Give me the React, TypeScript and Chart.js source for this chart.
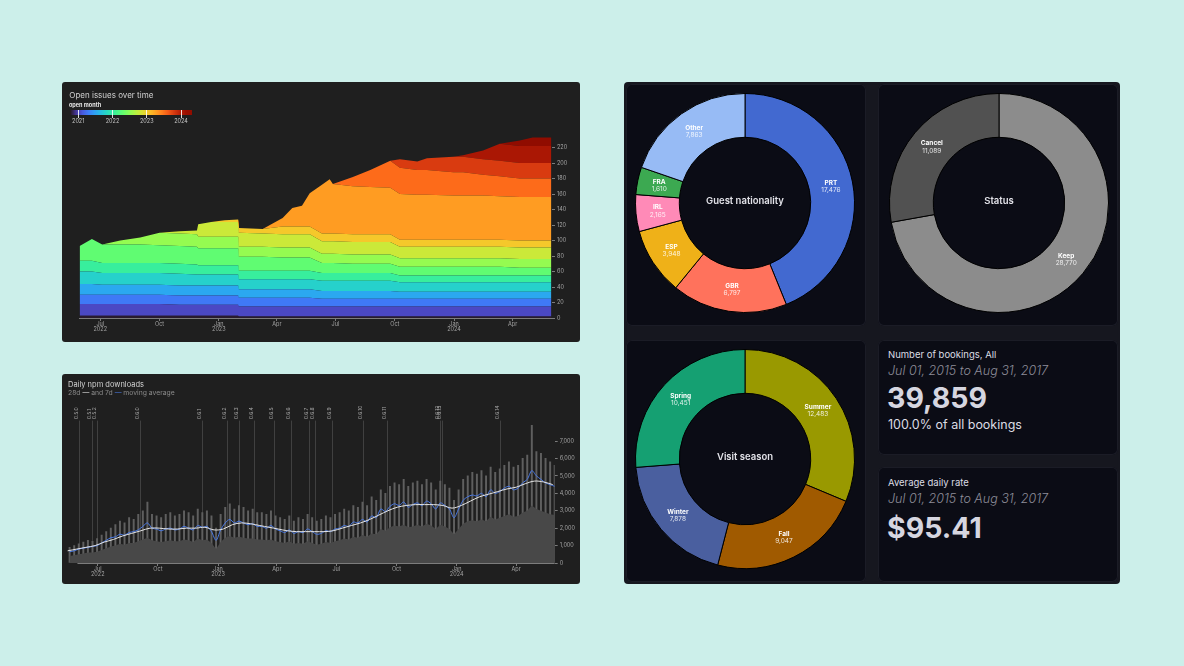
import React, { useEffect, useRef } from "react";
import { Chart, registerables } from "chart.js";

Chart.register(...registerables);

const FONT = "Inter, 'Noto Sans', 'DejaVu Sans', sans-serif";
const DAY_MS = 86400000;
const EPOCH = Date.UTC(2022, 6, 1);
const toDay = (iso: string) => (Date.parse(iso + "T00:00:00Z") - EPOCH) / DAY_MS;

// ================= Open issues over time =================
const issueDates = [
  "2022-05-30", "2022-06-18", "2022-07-04", "2022-08-01", "2022-09-01", "2022-10-01",
  "2022-11-01", "2022-11-28", "2022-11-30", "2022-12-20", "2023-01-10", "2023-01-31",
  "2023-02-01", "2023-03-10", "2023-04-10", "2023-04-25", "2023-05-10", "2023-05-22",
  "2023-06-10", "2023-06-22", "2023-06-27", "2023-07-28", "2023-08-24", "2023-09-24",
  "2023-10-09", "2023-11-05", "2023-11-20", "2023-12-31", "2024-01-15", "2024-02-15",
  "2024-03-12", "2024-04-12", "2024-05-02", "2024-05-31",
];
const cohortStarts = [
  "2020-10-01", "2021-01-01", "2021-04-01", "2021-07-01", "2021-10-01", "2022-01-01",
  "2022-04-01", "2022-07-01", "2022-10-01", "2023-01-01", "2023-04-01", "2023-07-01",
  "2023-10-01", "2024-01-01", "2024-04-01",
];
const open2020Q4 = [3,3,3,3,3,3,3,3,3,3,3,3,2,2,2,2,2,2,2,2,2,2,2,2,2,2,2,2,2,2,2,2,2,2];
const open2021Q1 = [15,15,15,15,15,15,14,14,14,14,14,14,13,13,13,13,13,13,13,13,13,13,13,13,13,13,13,13,13,13,13,13,13,13];
const open2021Q2 = [12,12,12,12,12,12,12,12,12,12,12,12,11,11,11,11,11,11,10,10,10,10,10,10,10,10,10,10,10,10,10,10,10,10];
const open2021Q3 = [14,14,13,13,13,13,13,13,13,13,13,13,11,11,11,11,11,11,10,10,10,10,10,10,9,9,9,9,9,9,9,9,9,9];
const open2021Q4 = [16,16,15,15,15,15,15,14,14,14,14,14,13,13,13,13,13,13,13,13,13,13,13,13,12,12,12,12,12,12,12,12,12,12];
const open2022Q1 = [14,14,13,13,13,13,13,13,12,12,12,12,11,11,11,11,11,11,10,10,10,10,10,10,9,9,9,9,9,9,9,9,9,9];
const open2022Q2 = [19,28,24,24,24,23,23,23,22,22,22,22,18,18,17,17,17,17,13,13,13,12,12,12,11,11,11,11,11,11,11,10,10,10];
const open2022Q3 = [0,0,0,5,9,16,16,16,15,15,15,15,13,13,13,13,13,13,12,12,12,12,12,12,11,11,11,11,11,11,11,11,11,11];
const open2022Q4 = [0,0,0,0,0,0,3,5,16,19,19,19,18,17,17,17,17,17,16,16,16,16,16,16,15,15,15,15,15,15,15,15,15,15];
const open2023Q1 = [0,0,0,0,0,0,0,0,0,0,2,3,6,6,10,10,10,10,10,10,10,10,10,10,9,9,9,9,9,9,9,9,9,9];
const open2023Q2 = [0,0,0,0,0,0,0,0,0,0,0,0,0,0,11,24,27,43,63,70,64,62,61,60,59,58,58,57,57,57,56,56,56,56];
const open2023Q3 = [0,0,0,0,0,0,0,0,0,0,0,0,0,0,0,0,0,0,0,0,0,12,22,35,34,32,32,30,30,27,26,24,24,24];
const open2023Q4 = [0,0,0,0,0,0,0,0,0,0,0,0,0,0,0,0,0,0,0,0,0,0,0,0,11,11,15,20,20,20,20,20,20,20];
const open2024Q1 = [0,0,0,0,0,0,0,0,0,0,0,0,0,0,0,0,0,0,0,0,0,0,0,0,0,0,0,0,2,11,22,22,22,22];
const open2024Q2 = [0,0,0,0,0,0,0,0,0,0,0,0,0,0,0,0,0,0,0,0,0,0,0,0,0,0,0,0,0,0,0,7,11,11];
const cohortValues = [
  open2020Q4, open2021Q1, open2021Q2, open2021Q3, open2021Q4, open2022Q1, open2022Q2,
  open2022Q3, open2022Q4, open2023Q1, open2023Q2, open2023Q3, open2023Q4, open2024Q1, open2024Q2,
];
const issueYTicks = [0, 20, 40, 60, 80, 100, 120, 140, 160, 180, 200, 220];
const colorbarStart = "2020-10-08";
const colorbarEnd = "2024-04-27";
const colorbarYears = ["2021", "2022", "2023", "2024"];

// shared month ticks
const axisTickDates = ["2022-07-01", "2022-10-01", "2023-01-01", "2023-04-01", "2023-07-01", "2023-10-01", "2024-01-01", "2024-04-01"];
const axisTickLabels = [["Jul", "2022"], ["Oct"], ["Jan", "2023"], ["Apr"], ["Jul"], ["Oct"], ["Jan", "2024"], ["Apr"]];

// ================= Daily npm downloads =================
const dlWeekStart = "2022-05-16";
const dlWeekHigh = [
  900, 1000, 1100, 1200, 1300, 1250, 1400,
  1600, 1800, 2000, 2200,
  2400, 2300, 2600, 2500, 2800,
  3000, 3500, 2800, 2700,
  2600, 2800, 2900, 2700, 2800,
  3000, 2900, 2700, 3100,
  2900, 3000, 2700, 2000,
  2800, 3200, 3400, 3100, 3300,
  3200, 3000, 3100, 2900,
  2900, 2800, 3000, 2700,
  2600, 2500, 2700, 2400,
  2600, 2500, 2800, 2600, 2400,
  2500, 2700, 2600, 2800,
  2900, 3100, 3000, 3300, 3200,
  3500, 3300, 3800, 3600,
  4200, 4000, 4400, 4600,
  4500, 4800, 4400, 4600, 4700,
  4500, 4800, 4600, 4200,
  4700, 4500, 4300, 3600,
  4200, 4800, 5000, 5200, 5100,
  5300, 5000, 5500, 5200,
  5400, 5600, 5800, 5500,
  5600, 6000, 6200, 7900, 6400,
  6300, 6000, 5800, 5600,
];
const dlWeekLow = [
  400, 450, 500, 550, 600, 600, 650,
  750, 850, 950, 1000,
  1100, 1050, 1150, 1150, 1250,
  1350, 1450, 1300, 1250,
  1200, 1250, 1300, 1250, 1250,
  1350, 1300, 1200, 1400,
  1300, 1350, 1150, 800,
  1200, 1450, 1550, 1450, 1500,
  1450, 1400, 1400, 1350,
  1350, 1300, 1350, 1250,
  1200, 1150, 1250, 1100,
  1150, 1100, 1250, 1150, 1050,
  1100, 1200, 1150, 1250,
  1300, 1400, 1350, 1500, 1450,
  1600, 1500, 1700, 1650,
  1950, 1850, 2050, 2150,
  2100, 2200, 2050, 2100, 2200,
  2100, 2250, 2150, 1950,
  2200, 2100, 1950, 1650,
  1950, 2250, 2400, 2450, 2400,
  2500, 2400, 2650, 2500,
  2600, 2700, 2800, 2650,
  2700, 2900, 3000, 3300, 3100,
  3000, 2900, 2800, 2750,
];
const dlAvg7 = [
  650, 700, 800, 850, 900, 950, 1000,
  1150, 1300, 1450, 1500,
  1650, 1600, 1750, 1800, 1900,
  2100, 2300, 2000, 1950,
  1850, 1950, 2000, 1900, 1950,
  2100, 2000, 1900, 2150,
  2050, 2100, 1800, 1300,
  1900, 2300, 2500, 2300, 2400,
  2300, 2200, 2250, 2100,
  2100, 2000, 2150, 1950,
  1850, 1750, 1900, 1700,
  1800, 1750, 1950, 1800, 1650,
  1700, 1850, 1800, 1950,
  2000, 2150, 2100, 2350, 2300,
  2500, 2350, 2700, 2600,
  3100, 2950, 3250, 3400,
  3300, 3500, 3200, 3350, 3450,
  3300, 3550, 3400, 3100,
  3450, 3300, 3100, 2600,
  3100, 3600, 3800, 3900, 3850,
  4000, 3800, 4200, 4000,
  4100, 4300, 4400, 4200,
  4300, 4600, 4800, 5300, 5000,
  4800, 4600, 4500, 4400,
];
const dlAvg28Start = "2022-05-16";
const dlAvg28 = [
  700, 800, 900, 1000, 1200, 1350, 1550, 1700, 1850, 2000,
  2000, 1950, 1950, 2000, 2000, 2050, 1900, 1950, 2200, 2300,
  2250, 2150, 2050, 1950, 1850, 1800, 1800, 1800, 1800, 1850,
  2000, 2150, 2300, 2500, 2750, 3000, 3200, 3300, 3350, 3350,
  3350, 3300, 3150, 3300, 3550, 3800, 3950, 4100, 4250, 4350,
  4550, 4700, 4650, 4500,
];
const dlYTicks = [0, 1000, 2000, 3000, 4000, 5000, 6000, 7000];
const versionDates = [
  "2022-06-03", "2022-06-23", "2022-06-30", "2022-09-03", "2022-12-08", "2023-01-15",
  "2023-02-02", "2023-02-25", "2023-03-28", "2023-04-22", "2023-05-20", "2023-05-29",
  "2023-06-24", "2023-08-11", "2023-09-16", "2023-12-06", "2023-12-09", "2024-03-08",
];
const versionLabels = [
  "0.5.0", "0.5.1", "0.5.2", "0.6.0", "0.6.1", "0.6.2", "0.6.3", "0.6.4", "0.6.5",
  "0.6.6", "0.6.7", "0.6.8", "0.6.9", "0.6.10", "0.6.11", "0.6.12", "0.6.13", "0.6.14",
];

// ================= Hotel bookings donuts =================
const nationalityLabels = ["PRT", "GBR", "ESP", "IRL", "FRA", "Other"];
const nationalityValues = [17476, 6797, 3948, 2165, 1610, 7863];
const nationalityColors = ["#4269d0", "#ff725c", "#efb118", "#ff8ab7", "#3ca951", "#97bbf5"];
const statusLabels = ["Keep", "Cancel"];
const statusValues = [28770, 11089];
const statusColors = ["#8c8c8c", "#515151"];
const seasonLabels = ["Summer", "Fall", "Winter", "Spring"];
const seasonValues = [12483, 9047, 7878, 10451];
const seasonColors = ["#999900", "#a05a00", "#4a5f9f", "#15a072"];

// ---------------- helpers ----------------
function turbo(t: number) {
  t = Math.max(0, Math.min(1, t));
  const r = 0.13572138 + t * (4.6153926 + t * (-42.66032258 + t * (132.13108234 + t * (-152.94239396 + t * 59.28637943))));
  const g = 0.09140261 + t * (2.19418839 + t * (4.84296658 + t * (-14.18503333 + t * (4.27729857 + t * 2.82956604))));
  const b = 0.1066733 + t * (12.64194608 + t * (-60.58204836 + t * (110.36276771 + t * (-89.90310912 + t * 27.34824973))));
  const c = (v: number) => Math.round(255 * Math.max(0, Math.min(1, v)));
  return `rgb(${c(r)},${c(g)},${c(b)})`;
}
const cbSpan = toDay(colorbarEnd) - toDay(colorbarStart);
const cohortColor = (i: number) => turbo((toDay(cohortStarts[i]) + 15 - toDay(colorbarStart)) / cbSpan);

const AXIS_COLOR = "#7c7c7c";
const TICK_TEXT = "#a4a4a4";

function IssuesChart() {
  const ref = useRef<HTMLCanvasElement>(null);
  useEffect(() => {
    const chart = new Chart(ref.current as HTMLCanvasElement, {
      type: "line",
      data: {
        datasets: cohortValues.map((vals, i) => ({
          label: cohortStarts[i],
          data: vals.map((v, j) => ({ x: toDay(issueDates[j]), y: v })),
          backgroundColor: cohortColor(i),
          borderColor: cohortColor(i),
          borderWidth: 0,
          pointRadius: 0,
          tension: 0,
          fill: i === 0 ? "origin" : "-1",
        })),
      },
      options: {
        animation: false,
        responsive: false,
        events: [],
        layout: { padding: { left: 17, top: 50, right: 0, bottom: 0 } },
        plugins: { legend: { display: false }, tooltip: { enabled: false } },
        scales: {
          x: {
            type: "linear",
            min: toDay("2022-05-29"),
            max: toDay("2024-06-01"),
            afterBuildTicks: (axis: any) => {
              axis.ticks = axisTickDates.map((d) => ({ value: toDay(d) }));
            },
            afterFit: (axis: any) => {
              axis.height = 24;
            },
            border: { color: AXIS_COLOR, width: 1 },
            grid: { drawOnChartArea: false, tickLength: 3, color: AXIS_COLOR },
            ticks: {
              autoSkip: false,
              maxRotation: 0,
              padding: 1,
              color: TICK_TEXT,
              font: { family: FONT, size: 5.5, lineHeight: 0.95 },
              callback: (_v: any, i: number) => axisTickLabels[i],
            },
          },
          y: {
            position: "right",
            stacked: true,
            min: 0,
            max: 240,
            afterBuildTicks: (axis: any) => {
              axis.ticks = issueYTicks.map((v) => ({ value: v }));
            },
            afterFit: (axis: any) => {
              axis.width = 28;
            },
            border: { display: false },
            grid: { drawOnChartArea: false, tickLength: 3, color: AXIS_COLOR },
            ticks: { padding: 2, color: TICK_TEXT, font: { family: FONT, size: 5.5 } },
          },
        },
      },
    } as any);
    return () => chart.destroy();
  }, []);
  return <canvas ref={ref} width={518} height={260} style={{ position: "absolute", left: 0, top: 0, display: "block" }} />;
}

function DownloadsChart() {
  const ref = useRef<HTMLCanvasElement>(null);
  useEffect(() => {
    const w0 = toDay(dlWeekStart);
    const a0 = toDay(dlAvg28Start);
    const versionPlugin = {
      id: "versions",
      beforeDatasetsDraw(chart: any) {
        const { ctx, chartArea, scales } = chart;
        ctx.save();
        versionDates.forEach((d, i) => {
          const x = Math.round(scales.x.getPixelForValue(toDay(d))) + 0.5;
          ctx.strokeStyle = "#404040";
          ctx.lineWidth = 1;
          ctx.beginPath();
          ctx.moveTo(x, chartArea.top - 3);
          ctx.lineTo(x, chartArea.bottom);
          ctx.stroke();
          ctx.save();
          ctx.translate(x - 0.5, chartArea.top - 4.5);
          ctx.rotate(-Math.PI / 2);
          ctx.fillStyle = "#a8a8a8";
          ctx.font = `5px ${FONT}`;
          ctx.textAlign = "left";
          ctx.textBaseline = "bottom";
          ctx.fillText(versionLabels[i], 0, 0);
          ctx.restore();
        });
        ctx.restore();
      },
      afterDraw(chart: any) {
        const { ctx, chartArea, scales } = chart;
        const x0 = scales.x.getPixelForValue(toDay("2022-05-31"));
        ctx.save();
        ctx.strokeStyle = AXIS_COLOR;
        ctx.lineWidth = 1;
        ctx.beginPath();
        ctx.moveTo(x0, Math.round(chartArea.bottom) + 0.5);
        ctx.lineTo(chartArea.right, Math.round(chartArea.bottom) + 0.5);
        ctx.stroke();
        ctx.restore();
      },
    };
    const chart = new Chart(ref.current as HTMLCanvasElement, {
      type: "line",
      data: {
        datasets: [
          {
            type: "line",
            label: "28d",
            data: dlAvg28.map((v, i) => ({ x: a0 + 14 * i, y: v })),
            borderColor: "#e6e6e6",
            borderWidth: 1,
            pointRadius: 0,
            tension: 0.35,
            fill: false,
          },
          {
            type: "line",
            label: "7d",
            data: dlAvg7.map((v, i) => ({ x: w0 + 7 * i + 3, y: v })),
            borderColor: "#4a7ae6",
            borderWidth: 1,
            pointRadius: 0,
            tension: 0.3,
            fill: false,
          },
          {
            type: "line",
            label: "weekend",
            data: dlWeekLow.map((v, i) => ({ x: w0 + 7 * i + 3, y: v })),
            backgroundColor: "#484848",
            borderWidth: 0,
            pointRadius: 0,
            tension: 0,
            fill: "origin",
          },
          {
            type: "bar",
            label: "daily",
            data: dlWeekHigh.map((v, i) => ({ x: w0 + 7 * i + 3, y: v })),
            backgroundColor: "#5f5f5f",
            barThickness: 1.3,
          },
        ],
      },
      options: {
        animation: false,
        responsive: false,
        events: [],
        layout: { padding: { left: 5, top: 49.6, right: 0, bottom: 0 } },
        plugins: { legend: { display: false }, tooltip: { enabled: false } },
        scales: {
          x: {
            type: "linear",
            offset: false,
            min: toDay("2022-05-15"),
            max: toDay("2024-05-30"),
            afterBuildTicks: (axis: any) => {
              axis.ticks = axisTickDates.map((d) => ({ value: toDay(d) }));
            },
            afterFit: (axis: any) => {
              axis.height = 21;
            },
            border: { display: false },
            grid: { drawOnChartArea: false, tickLength: 3, color: AXIS_COLOR, offset: false },
            ticks: {
              autoSkip: false,
              maxRotation: 0,
              padding: 1,
              color: TICK_TEXT,
              font: { family: FONT, size: 5.5, lineHeight: 0.95 },
              callback: (_v: any, i: number) => axisTickLabels[i],
            },
          },
          y: {
            position: "right",
            min: 0,
            max: 8000,
            afterBuildTicks: (axis: any) => {
              axis.ticks = dlYTicks.map((v) => ({ value: v }));
            },
            afterFit: (axis: any) => {
              axis.width = 25.3;
            },
            border: { display: false },
            grid: { drawOnChartArea: false, tickLength: 3, color: AXIS_COLOR },
            ticks: {
              padding: 2,
              color: TICK_TEXT,
              font: { family: FONT, size: 5.5 },
              callback: (v: any) => Number(v).toLocaleString("en-US"),
            },
          },
        },
      },
      plugins: [versionPlugin],
    } as any);
    return () => chart.destroy();
  }, []);
  return <canvas ref={ref} width={518} height={210} style={{ position: "absolute", left: 0, top: 0, display: "block" }} />;
}

function Donut(props: { title: string; labels: string[]; values: number[]; colors: string[]; pad: { left: number; right: number; top: number; bottom: number } }) {
  const ref = useRef<HTMLCanvasElement>(null);
  useEffect(() => {
    const textPlugin = {
      id: "donutText",
      afterDatasetsDraw(chart: any) {
        const ctx = chart.ctx;
        const meta = chart.getDatasetMeta(0);
        ctx.save();
        ctx.textAlign = "center";
        ctx.textBaseline = "middle";
        meta.data.forEach((arc: any, i: number) => {
          const p = arc.tooltipPosition(false);
          ctx.fillStyle = "#ffffff";
          ctx.font = `700 6.5px ${FONT}`;
          ctx.fillText(props.labels[i], p.x, p.y - 3.6);
          ctx.fillStyle = "rgba(255,255,255,0.86)";
          ctx.font = `400 6.5px ${FONT}`;
          ctx.fillText(props.values[i].toLocaleString("en-US"), p.x, p.y + 3.8);
        });
        const a = meta.data[0];
        ctx.fillStyle = "#e2e2e8";
        ctx.font = `600 9.5px ${FONT}`;
        ctx.fillText(props.title, a.x, a.y - 1.5);
        ctx.restore();
      },
    };
    const chart = new Chart(ref.current as HTMLCanvasElement, {
      type: "doughnut",
      data: {
        labels: props.labels,
        datasets: [{ data: props.values, backgroundColor: props.colors, borderColor: "#000000", borderWidth: 1 }],
      },
      options: {
        animation: false,
        responsive: false,
        events: [],
        cutout: "60%",
        layout: { padding: props.pad },
        plugins: { legend: { display: false }, tooltip: { enabled: false } },
      },
      plugins: [textPlugin],
    } as any);
    return () => chart.destroy();
  }, []);
  return <canvas ref={ref} width={240} height={242} style={{ position: "absolute", left: 0, top: 0, display: "block" }} />;
}

const cardStyle = (left: number, top: number, w: number, h: number): React.CSSProperties => ({
  position: "absolute",
  left,
  top,
  width: w,
  height: h,
  background: "#0b0c15",
  borderRadius: 6,
  boxShadow: "inset 0 0 0 1px #1b1c26",
  overflow: "hidden",
});

const txt = (left: number, top: number, size: number, extra: React.CSSProperties = {}): React.CSSProperties => ({
  position: "absolute",
  left,
  top,
  fontSize: size,
  lineHeight: 1,
  whiteSpace: "nowrap",
  fontFamily: FONT,
  ...extra,
});

export default function App() {
  const cbW = 121.7;
  const cbStops = Array.from({ length: 21 }, (_, k) => `${turbo(k / 20)} ${k * 5}%`).join(", ");
  return (
    <div style={{ position: "absolute", left: 0, top: 0, width: 1184, height: 666, background: "#ccefea", overflow: "hidden", fontFamily: FONT }}>
      {/* Open issues panel */}
      <div style={{ position: "absolute", left: 62, top: 82, width: 518, height: 260, background: "#1f1f1f", borderRadius: 3, overflow: "hidden" }}>
        <IssuesChart />
        <div style={txt(7.3, 9, 8, { color: "#d2d2d2" })}>Open issues over time</div>
        <div style={txt(7, 21.3, 5.5, { color: "#e6e6e6", fontWeight: 700 })}>open month</div>
        <div style={{ position: "absolute", left: 8.3, top: 28.3, width: cbW, height: 5, background: `linear-gradient(to right, ${cbStops})` }} />
        {colorbarYears.map((y) => {
          const x = 8.3 + ((toDay(y + "-01-01") - toDay(colorbarStart)) / cbSpan) * cbW;
          return (
            <React.Fragment key={y}>
              <div style={{ position: "absolute", left: x - 0.5, top: 28.3, width: 1, height: 7.5, background: "rgba(255,255,255,0.85)" }} />
              <div style={txt(x - 15, 37.2, 5.5, { width: 30, textAlign: "center", color: "#c8c8c8" })}>{y}</div>
            </React.Fragment>
          );
        })}
      </div>

      {/* Daily npm downloads panel */}
      <div style={{ position: "absolute", left: 62, top: 374, width: 518, height: 210, background: "#1f1f1f", borderRadius: 3, overflow: "hidden" }}>
        <DownloadsChart />
        <div style={txt(6, 7, 7.5, { color: "#d2d2d2" })}>Daily npm downloads</div>
        <div style={txt(6, 15.8, 6.8, { color: "#8a8a8a" })}>
          28d <span style={{ color: "#e6e6e6" }}>—</span> and 7d <span style={{ color: "#4a7ae6" }}>—</span> moving average
        </div>
      </div>

      {/* Hotel dashboard panel */}
      <div style={{ position: "absolute", left: 624, top: 82, width: 496, height: 502, background: "#16171f", borderRadius: 4, overflow: "hidden" }}>
        <div style={cardStyle(2, 2, 240, 242)}>
          <Donut title="Guest nationality" labels={nationalityLabels} values={nationalityValues} colors={nationalityColors} pad={{ left: 9, right: 11, top: 9, bottom: 13 }} />
        </div>
        <div style={cardStyle(254, 2, 240, 242)}>
          <Donut title="Status" labels={statusLabels} values={statusValues} colors={statusColors} pad={{ left: 11, right: 9, top: 9, bottom: 13 }} />
        </div>
        <div style={cardStyle(2, 258, 240, 242)}>
          <Donut title="Visit season" labels={seasonLabels} values={seasonValues} colors={seasonColors} pad={{ left: 9, right: 11, top: 9, bottom: 13 }} />
        </div>
        <div style={cardStyle(254, 258, 240, 115)} />
        <div style={cardStyle(254, 385, 240, 115)} />
      </div>

      {/* KPI texts */}
      <div style={txt(888, 350, 9.5, { color: "#dcdce4" })}>Number of bookings, All</div>
      <div style={txt(888, 364.6, 12.5, { color: "#8d8d99", fontStyle: "italic", fontWeight: 300 })}>Jul 01, 2015 to Aug 31, 2017</div>
      <div style={txt(887, 384, 28.5, { color: "#d6d6e0", fontWeight: 700 })}>39,859</div>
      <div style={txt(888, 419, 12.5, { color: "#dcdce4" })}>100.0% of all bookings</div>
      <div style={txt(888, 478.4, 9.5, { color: "#dcdce4" })}>Average daily rate</div>
      <div style={txt(888, 493, 12.5, { color: "#8d8d99", fontStyle: "italic", fontWeight: 300 })}>Jul 01, 2015 to Aug 31, 2017</div>
      <div style={txt(887, 513.5, 28.5, { color: "#d6d6e0", fontWeight: 700 })}>$95.41</div>
    </div>
  );
}
